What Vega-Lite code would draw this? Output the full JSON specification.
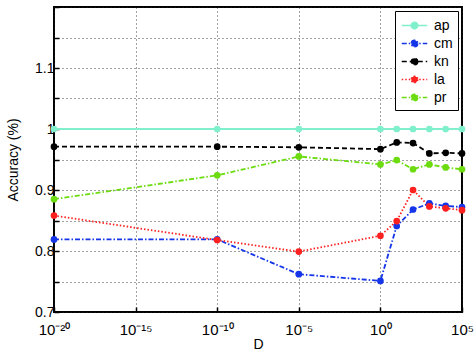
{
  "$schema": "https://vega.github.io/schema/vega-lite/v6.json",
  "width": 408,
  "height": 305,
  "autosize": "none",
  "padding": {"left": 54, "top": 7, "right": 12, "bottom": 44},
  "background": "white",
  "config": {
    "view": {"stroke": "black", "strokeWidth": 2},
    "font": "Liberation Sans",
    "axis": {
      "labelFont": "Liberation Sans",
      "titleFont": "Liberation Sans",
      "labelColor": "black",
      "titleColor": "black",
      "labelFontSize": 14,
      "titleFontSize": 14,
      "titleFontWeight": "normal",
      "domain": false,
      "tickColor": "black",
      "tickSize": -5,
      "tickWidth": 1.5,
      "gridColor": "#222",
      "gridDash": [1, 3],
      "gridOpacity": 0.85,
      "gridWidth": 1
    }
  },
  "data": {
    "values": [
      {"D": 1e-20, "series": "ap", "acc": 1.0},
      {"D": 1e-10, "series": "ap", "acc": 1.0},
      {"D": 1e-5, "series": "ap", "acc": 1.0},
      {"D": 1, "series": "ap", "acc": 1.0},
      {"D": 10, "series": "ap", "acc": 1.0},
      {"D": 100, "series": "ap", "acc": 1.0},
      {"D": 1000, "series": "ap", "acc": 1.0},
      {"D": 10000, "series": "ap", "acc": 1.0},
      {"D": 100000, "series": "ap", "acc": 1.0},
      {"D": 1e-20, "series": "cm", "acc": 0.819},
      {"D": 1e-10, "series": "cm", "acc": 0.819},
      {"D": 1e-5, "series": "cm", "acc": 0.762},
      {"D": 1, "series": "cm", "acc": 0.751},
      {"D": 10, "series": "cm", "acc": 0.841},
      {"D": 100, "series": "cm", "acc": 0.868},
      {"D": 1000, "series": "cm", "acc": 0.878},
      {"D": 10000, "series": "cm", "acc": 0.874},
      {"D": 100000, "series": "cm", "acc": 0.872},
      {"D": 1e-20, "series": "kn", "acc": 0.971},
      {"D": 1e-10, "series": "kn", "acc": 0.971},
      {"D": 1e-5, "series": "kn", "acc": 0.970},
      {"D": 1, "series": "kn", "acc": 0.967},
      {"D": 10, "series": "kn", "acc": 0.978},
      {"D": 100, "series": "kn", "acc": 0.977},
      {"D": 1000, "series": "kn", "acc": 0.960},
      {"D": 10000, "series": "kn", "acc": 0.961},
      {"D": 100000, "series": "kn", "acc": 0.960},
      {"D": 1e-20, "series": "la", "acc": 0.858},
      {"D": 1e-10, "series": "la", "acc": 0.818},
      {"D": 1e-5, "series": "la", "acc": 0.799},
      {"D": 1, "series": "la", "acc": 0.825},
      {"D": 10, "series": "la", "acc": 0.849},
      {"D": 100, "series": "la", "acc": 0.900},
      {"D": 1000, "series": "la", "acc": 0.873},
      {"D": 10000, "series": "la", "acc": 0.870},
      {"D": 100000, "series": "la", "acc": 0.867},
      {"D": 1e-20, "series": "pr", "acc": 0.885},
      {"D": 1e-10, "series": "pr", "acc": 0.924},
      {"D": 1e-5, "series": "pr", "acc": 0.955},
      {"D": 1, "series": "pr", "acc": 0.942},
      {"D": 10, "series": "pr", "acc": 0.949},
      {"D": 100, "series": "pr", "acc": 0.934},
      {"D": 1000, "series": "pr", "acc": 0.942},
      {"D": 10000, "series": "pr", "acc": 0.937},
      {"D": 100000, "series": "pr", "acc": 0.934}
    ]
  },
  "encoding": {
    "x": {
      "field": "D",
      "type": "quantitative",
      "scale": {"type": "log", "domain": [1e-20, 100000], "nice": false},
      "axis": {
        "title": "D",
        "values": [1e-20, 1e-15, 1e-10, 1e-5, 1, 100000],
        "labelExpr": "datum.value < 1e-17 ? '10⁻²⁰' : datum.value < 1e-12 ? '10⁻¹⁵' : datum.value < 1e-7 ? '10⁻¹⁰' : datum.value < 0.01 ? '10⁻⁵' : datum.value < 10 ? '10⁰' : '10⁵'",
        "labelFontSize": 15,
        "labelPadding": 15,
        "titlePadding": 0,
        "grid": true,
        "labelFlush": false
      }
    },
    "y": {
      "field": "acc",
      "type": "quantitative",
      "scale": {"domain": [0.7, 1.2], "nice": false, "zero": false},
      "axis": {
        "title": "Accuracy (%)",
        "values": [0.7, 0.75, 0.8, 0.85, 0.9, 0.95, 1.0, 1.05, 1.1, 1.15, 1.2],
        "labelExpr": "(abs(round(datum.value*10) - datum.value*10) < 0.001 && datum.value < 1.15) ? format(datum.value, '~g') : ''",
        "labelPadding": 5,
        "titlePadding": 14,
        "grid": true
      }
    },
    "color": {
      "field": "series",
      "type": "nominal",
      "scale": {
        "domain": ["ap", "cm", "kn", "la", "pr"],
        "range": ["#80f0cc", "#1535e8", "#000000", "#ff2020", "#6cdc10"]
      },
      "legend": {
        "title": null,
        "orient": "top-right",
        "offset": 4,
        "padding": 5,
        "strokeColor": "black",
        "fillColor": "white",
        "labelFontSize": 14,
        "labelFont": "Liberation Sans",
        "labelColor": "black",
        "rowPadding": 1,
        "symbolType": "M-1.5,0H1.5M0.38,0A0.38,0.38,0,1,1,-0.38,0A0.38,0.38,0,1,1,0.38,0Z",
        "symbolSize": 289,
        "symbolStrokeWidth": 1.5,
        "symbolOffset": 5,
        "labelOffset": 10,
        "encode": {
          "symbols": {
            "update": {
              "fill": {"scale": "color", "field": "value"},
              "fillOpacity": {"value": 1}
            }
          }
        }
      }
    },
    "strokeDash": {
      "field": "series",
      "type": "nominal",
      "scale": {
        "domain": ["ap", "cm", "kn", "la", "pr"],
        "range": [[1, 0], [5, 2, 1.5, 2], [5, 3], [1.5, 2], [5, 2, 1.5, 2]]
      },
      "legend": {
        "title": null,
        "orient": "top-right",
        "offset": 4,
        "padding": 5,
        "strokeColor": "black",
        "fillColor": "white",
        "labelFontSize": 14,
        "labelFont": "Liberation Sans",
        "labelColor": "black",
        "rowPadding": 1,
        "symbolType": "M-1.5,0H1.5M0.38,0A0.38,0.38,0,1,1,-0.38,0A0.38,0.38,0,1,1,0.38,0Z",
        "symbolSize": 289,
        "symbolStrokeWidth": 1.5,
        "symbolOffset": 5,
        "labelOffset": 10
      }
    }
  },
  "layer": [
    {
      "mark": {"type": "line", "strokeWidth": 1.8}
    },
    {
      "mark": {"type": "point", "filled": true, "size": 45, "opacity": 1, "clip": false, "strokeDash": [1, 0]},
      "encoding": {"strokeDash": {"value": [1, 0]}}
    }
  ]
}
